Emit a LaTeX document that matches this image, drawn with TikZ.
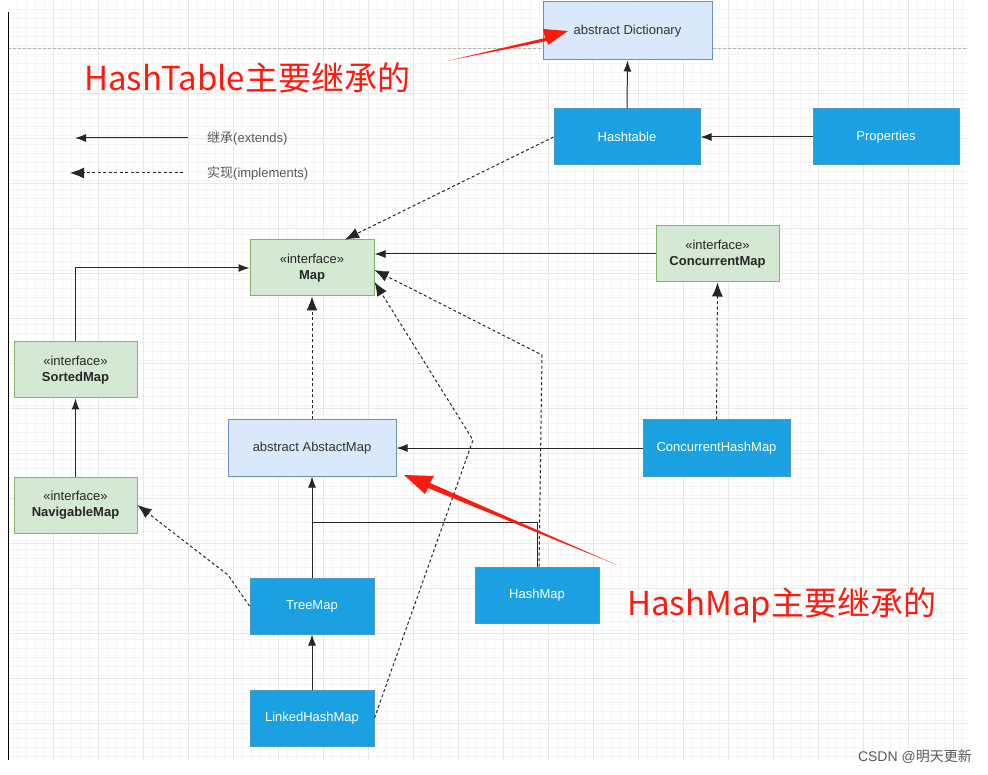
\documentclass[tikz,border=0pt]{standalone}
\usepackage{fontspec}
\setmainfont{Liberation Sans}
\newfontfamily\cjk{Noto Sans CJK SC}
\usetikzlibrary{arrows.meta}
\definecolor{bluef}{HTML}{1BA1E2}
\definecolor{bluel}{HTML}{006EAF}
\definecolor{lbf}{HTML}{DAE8FC}
\definecolor{lbl}{HTML}{6C8EBF}
\definecolor{grf}{HTML}{D5E8D4}
\definecolor{grl}{HTML}{82B366}
\definecolor{redc}{HTML}{FF1A0F}
\begin{document}
\begin{tikzpicture}[x=1pt,y=-1pt,
  box/.style={draw, line width=1pt, minimum height=56pt, font=\fontsize{13}{15.5}\selectfont, align=center, inner sep=0pt},
  cls/.style={box, fill=bluef, draw=bluel!70, text=white},
  abs/.style={box, fill=lbf, draw=lbl, text=black!80},
  ifc/.style={box, fill=grf, draw=grl, text=black!85},
  ext/.style={-{Latex[length=11pt,width=8pt]}, line width=1pt, black!85},
  impl/.style={-{Latex[length=14pt,width=11pt]}, line width=1pt, dashed, dash pattern=on 3pt off 2.5pt, black!85}]
\useasboundingbox (0,0) rectangle (988,775);
\fill[white] (0,0) rectangle (988,775);
% grid
\foreach \x in {17,26,...,968} \draw[black!4, line width=0.4pt] (\x,0) -- (\x,760);
\foreach \y in {9,18,...,760} \draw[black!4, line width=0.4pt] (8,\y) -- (968,\y);
\foreach \x in {53,98,...,968} \draw[black!9, line width=0.5pt] (\x,0) -- (\x,760);
\foreach \y in {48,93,...,760} \draw[black!9, line width=0.5pt] (8,\y) -- (968,\y);
\draw[black!30, dashed, dash pattern=on 3pt off 2pt] (8,48) -- (968,48);
\draw[black, line width=1pt] (8,12) -- (8,760);
% nodes
\node[abs, minimum width=169pt, minimum height=58pt] (dict) at (627.5,31) {abstract Dictionary};
\node[cls, minimum width=146pt] (ht) at (627,137) {Hashtable};
\node[cls, minimum width=146pt] (prop) at (886,137) {Properties};
\node[ifc, minimum width=124pt] (map) at (312,268) {«interface»\\\textbf{Map}};
\node[ifc, minimum width=123pt] (cmap) at (717.5,254) {«interface»\\\textbf{ConcurrentMap}};
\node[ifc, minimum width=123pt] (smap) at (75.5,370) {«interface»\\\textbf{SortedMap}};
\node[abs, minimum width=168pt] (am) at (312,448) {abstract AbstactMap};
\node[cls, minimum width=147pt] (chm) at (716.5,448) {ConcurrentHashMap};
\node[ifc, minimum width=123pt] (nmap) at (75.5,505) {«interface»\\\textbf{NavigableMap}};
\node[cls, minimum width=124pt] (tm) at (312,606) {TreeMap};
\node[cls, minimum width=124pt] (hm) at (537,595) {HashMap};
\node[cls, minimum width=124pt] (lhm) at (312,718) {LinkedHashMap};
% edges
\draw[ext] (ht.north) -- (dict.south);
\draw[ext] (prop.west) -- (ht.east);
\draw[impl] (ht.west) -- ([xshift=33pt]map.north);
\draw[ext] (cmap.west) -- ([yshift=14pt]map.east);
\draw[ext] (smap.north) |- (map.west);
\draw[ext] (nmap.north) -- (smap.south);
\draw[impl] (am.north) -- (map.south);
\draw[impl] (chm.north) -- (cmap.south);
\draw[ext] (chm.west) -- (am.east);
\draw[ext] (tm.north) -- (am.south);
\draw[line width=1pt, black!85] (hm.north) -- (537,522) -- (312,522);
\draw[impl] ([xshift=2pt]hm.north) -- (542,355) -- ([yshift=-2pt]map.east);
\draw[impl] (lhm.east) -- (473,440) -- ([yshift=-14pt]map.east);
\draw[impl] (tm.west) -- (228,575) -- (nmap.east);
\draw[ext] (lhm.north) -- (tm.south);
% legend
\coordinate (l1a) at (188,138); \coordinate (l1b) at (75,138);
\coordinate (l2a) at (183,173); \coordinate (l2b) at (70,173);
\draw[ext] (l1a) -- (l1b);
\draw[impl] (l2a) -- (l2b);
\node[anchor=west, text=black!65, font=\fontsize{13}{15}\selectfont, inner sep=0pt] (lt1) at (207,138) {{\cjk 继承}(extends)};
\node[anchor=west, text=black!65, font=\fontsize{13}{15}\selectfont, inner sep=0pt] (lt2) at (207,173) {{\cjk 实现}(implements)};
% annotations
\node[anchor=west, text=redc, font=\cjk\fontsize{33}{38}\selectfont, inner sep=0pt] (a1) at (84,78) {HashTable主要继承的};
\node[anchor=west, text=redc, font=\cjk\fontsize{33}{38}\selectfont, inner sep=0pt] (a2) at (627,605) {HashMap主要继承的};
\fill[redc] (447,61) -- (545,38) -- (543,29) -- (568,31) -- (548,45) -- (547,41) -- cycle;
\fill[redc] (617,565) -- (430,483) -- (434,476) -- (404,475) -- (425,494) -- (428,488) -- cycle;
\node[anchor=east, text=black!65, font=\fontsize{14}{16}\selectfont, inner sep=0pt] (wm) at (972,757) {CSDN @{\cjk 明天更新}};
\end{tikzpicture}
\end{document}
